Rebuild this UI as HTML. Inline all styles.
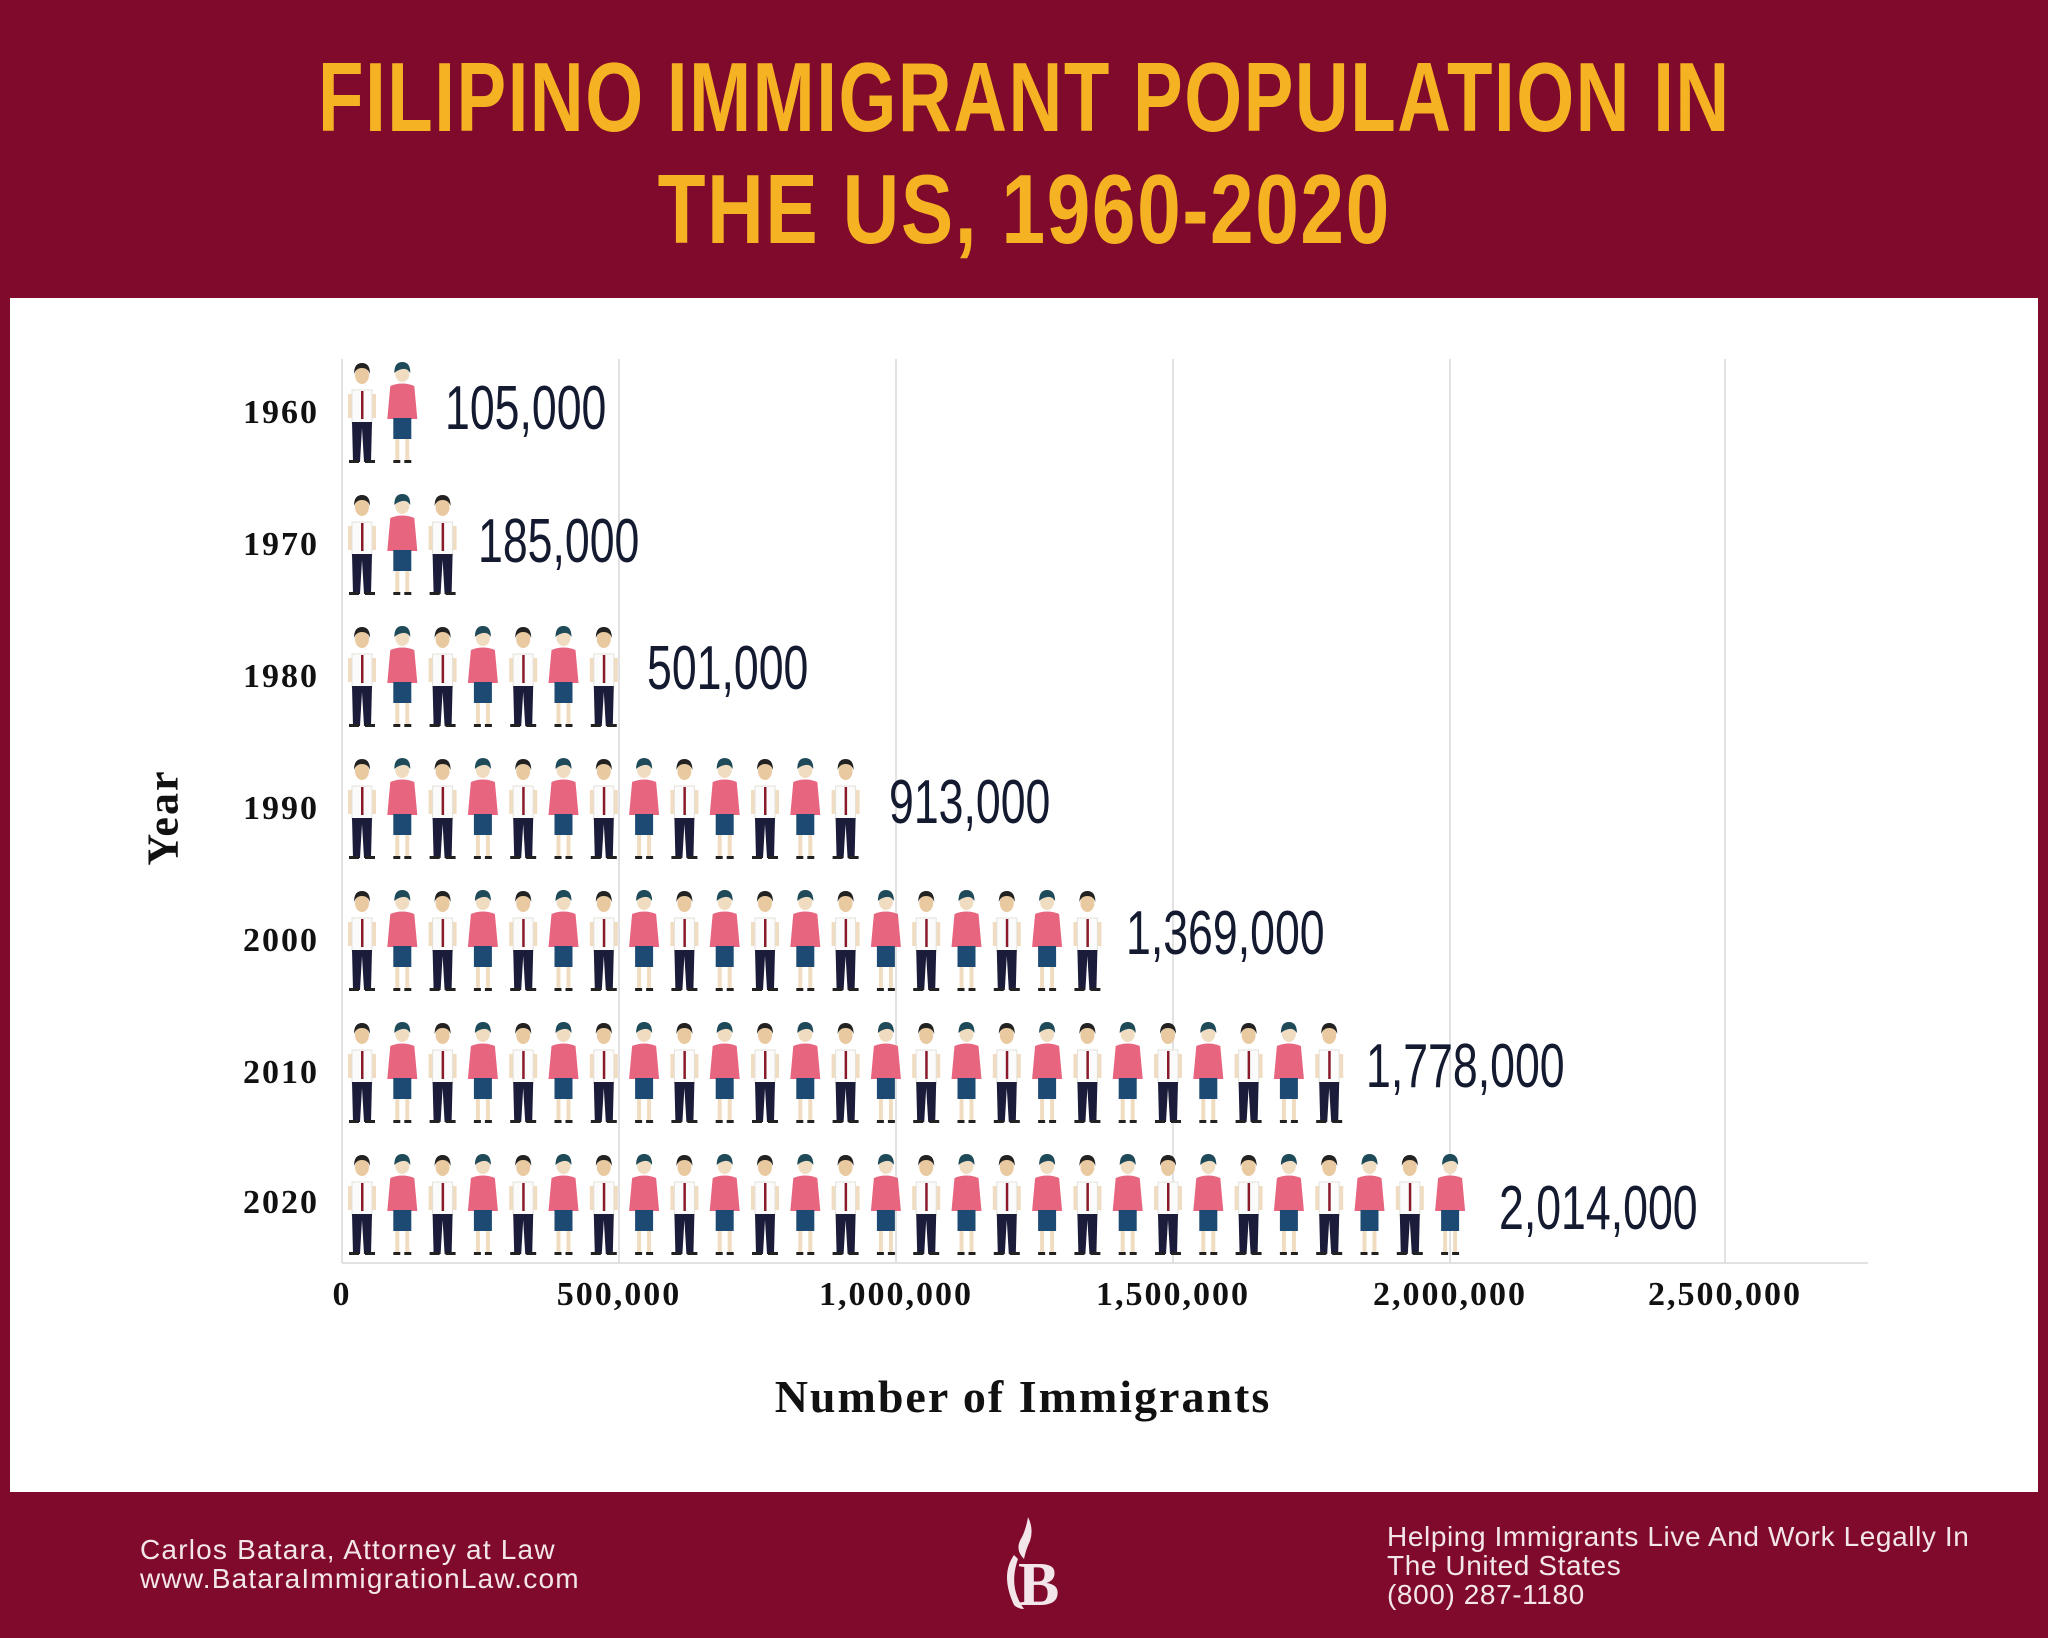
<!DOCTYPE html>
<html><head><meta charset="utf-8"><style>
body{margin:0;width:2048px;height:1638px;background:#800a2b;position:relative;overflow:hidden;font-family:"Liberation Sans",sans-serif}
.t{position:absolute;left:0;width:2048px;text-align:center;color:#f5b324;font-weight:bold;font-size:98px;line-height:1;letter-spacing:2px}
.t span{display:inline-block;transform:scaleX(0.76)}
#panel{position:absolute;left:10px;top:298px;width:2028px;height:1194px;background:#fff}
.s{font-family:"Liberation Serif",serif;font-weight:bold;color:#111;position:absolute}
.y{left:0;width:319px;text-align:right;font-size:34px;letter-spacing:2px}
.x{width:240px;text-align:center;top:1276px;font-size:34px;letter-spacing:2px}
.v{position:absolute;font-size:62px;color:#141a30;transform:scaleX(0.72);transform-origin:left center;line-height:1;white-space:nowrap}
.f{position:absolute;color:#f3e6ea;font-size:28px;line-height:29px;letter-spacing:1.2px}
</style></head><body>
<div class="t" style="top:48px"><span>FILIPINO IMMIGRANT POPULATION IN</span></div>
<div class="t" style="top:160px"><span style="transform:scaleX(0.8)">THE US, 1960-2020</span></div>
<div id="panel"></div>
<svg id="chart" width="2048" height="1638" style="position:absolute;left:0;top:0">
<defs>
<g id="man">
<rect x="4" y="36" width="5" height="24" fill="#f0dcc0"/><rect x="27" y="36" width="5" height="24" fill="#f0dcc0"/>
<rect x="8" y="32" width="20" height="33" fill="#fbfbfb" stroke="#e6e0d8"/>
<rect x="17" y="33" width="2.5" height="28" fill="#8a1a2a"/>
<path d="M8 64h20l-1 40h-7l-2-34-2 34h-7z" fill="#1a1c3a"/>
<rect x="5" y="102" width="10" height="3" fill="#222"/><rect x="21" y="102" width="10" height="3" fill="#222"/>
<ellipse cx="18" cy="17" rx="7" ry="9" fill="#e9c9a0"/>
<path d="M10 16q0-11 8-11t8 11q-2-6-8-6t-8 6z" fill="#222"/>
</g>
<g id="wom">
<ellipse cx="18" cy="16" rx="7" ry="8" fill="#f0dcc0"/>
<path d="M10 15q0-11 8-11t8 11q-3-5-8-4t-8 4z" fill="#1e4a5a"/>
<path d="M6 28q12-5 24 0l3 33h-30z" fill="#e8657f"/>
<rect x="9" y="60" width="18" height="21" fill="#1d4a72"/>
<rect x="11" y="81" width="4" height="22" fill="#f0dcc0"/><rect x="21" y="81" width="4" height="22" fill="#f0dcc0"/>
<rect x="9" y="102" width="7" height="3" fill="#222"/><rect x="20" y="102" width="7" height="3" fill="#222"/>
</g>
</defs>
<g stroke="#d8d8d8" stroke-width="1.5">
<line x1="619" y1="359" x2="619" y2="1263"/><line x1="896" y1="359" x2="896" y2="1263"/>
<line x1="1173" y1="359" x2="1173" y2="1263"/><line x1="1450" y1="359" x2="1450" y2="1263"/>
<line x1="1725" y1="359" x2="1725" y2="1263"/>
<line x1="342" y1="359" x2="342" y2="1263"/><line x1="342" y1="1263" x2="1868" y2="1263"/>
</g>
<g id="figs"></g>
</svg>
<div class="s y" style="top:394px">1960</div>
<div class="s y" style="top:526px">1970</div>
<div class="s y" style="top:658px">1980</div>
<div class="s y" style="top:790px">1990</div>
<div class="s y" style="top:922px">2000</div>
<div class="s y" style="top:1054px">2010</div>
<div class="s y" style="top:1184px">2020</div>
<div class="s" style="left:113px;top:792px;font-size:44px;letter-spacing:2px;transform:rotate(-90deg);transform-origin:50% 50%;width:100px;text-align:center">Year</div>
<div class="s x" style="left:222px">0</div>
<div class="s x" style="left:499px">500,000</div>
<div class="s x" style="left:776px">1,000,000</div>
<div class="s x" style="left:1053px">1,500,000</div>
<div class="s x" style="left:1330px">2,000,000</div>
<div class="s x" style="left:1605px">2,500,000</div>
<div class="s" style="left:623px;width:800px;text-align:center;top:1370px;font-size:46px;letter-spacing:2px">Number of Immigrants</div>
<div class="v" style="left:445px;top:378px">105,000</div>
<div class="v" style="left:478px;top:511px">185,000</div>
<div class="v" style="left:647px;top:638px">501,000</div>
<div class="v" style="left:889px;top:772px">913,000</div>
<div class="v" style="left:1126px;top:903px">1,369,000</div>
<div class="v" style="left:1366px;top:1036px">1,778,000</div>
<div class="v" style="left:1499px;top:1178px">2,014,000</div>
<div class="f" style="left:140px;top:1535px">Carlos Batara, Attorney at Law<br>www.BataraImmigrationLaw.com</div>
<div class="f" style="left:1387px;top:1522px;letter-spacing:0.6px">Helping Immigrants Live And Work Legally In<br>The United States<br>(800) 287-1180</div>
<svg width="80" height="100" style="position:absolute;left:988px;top:1515px" viewBox="0 0 80 100">
<path d="M40 2q6 12 2 24q-4 8-6 18q-10-10-2-22q4-8 6-20z" fill="#f3e6ea"/>
<path d="M26 40q-14 20 0 50q4 4 10 4q-16-22-6-50z" fill="#f3e6ea"/>
<text x="30" y="90" font-family="Liberation Serif,serif" font-size="62" font-weight="bold" fill="#f3e6ea">B</text>
</svg>
<script>
var counts=[2,3,7,13,19,25,28],cy=[415,547,679,811,943,1075,1207],g=document.getElementById('figs'),h='';
for(var r=0;r<7;r++)for(var i=0;i<counts[r];i++){h+='<use href="#'+(i%2?'wom':'man')+'" x="'+(344+i*40.3)+'" y="'+(cy[r]-57)+'"/>';}
g.innerHTML=h;
</script>
</body></html>
